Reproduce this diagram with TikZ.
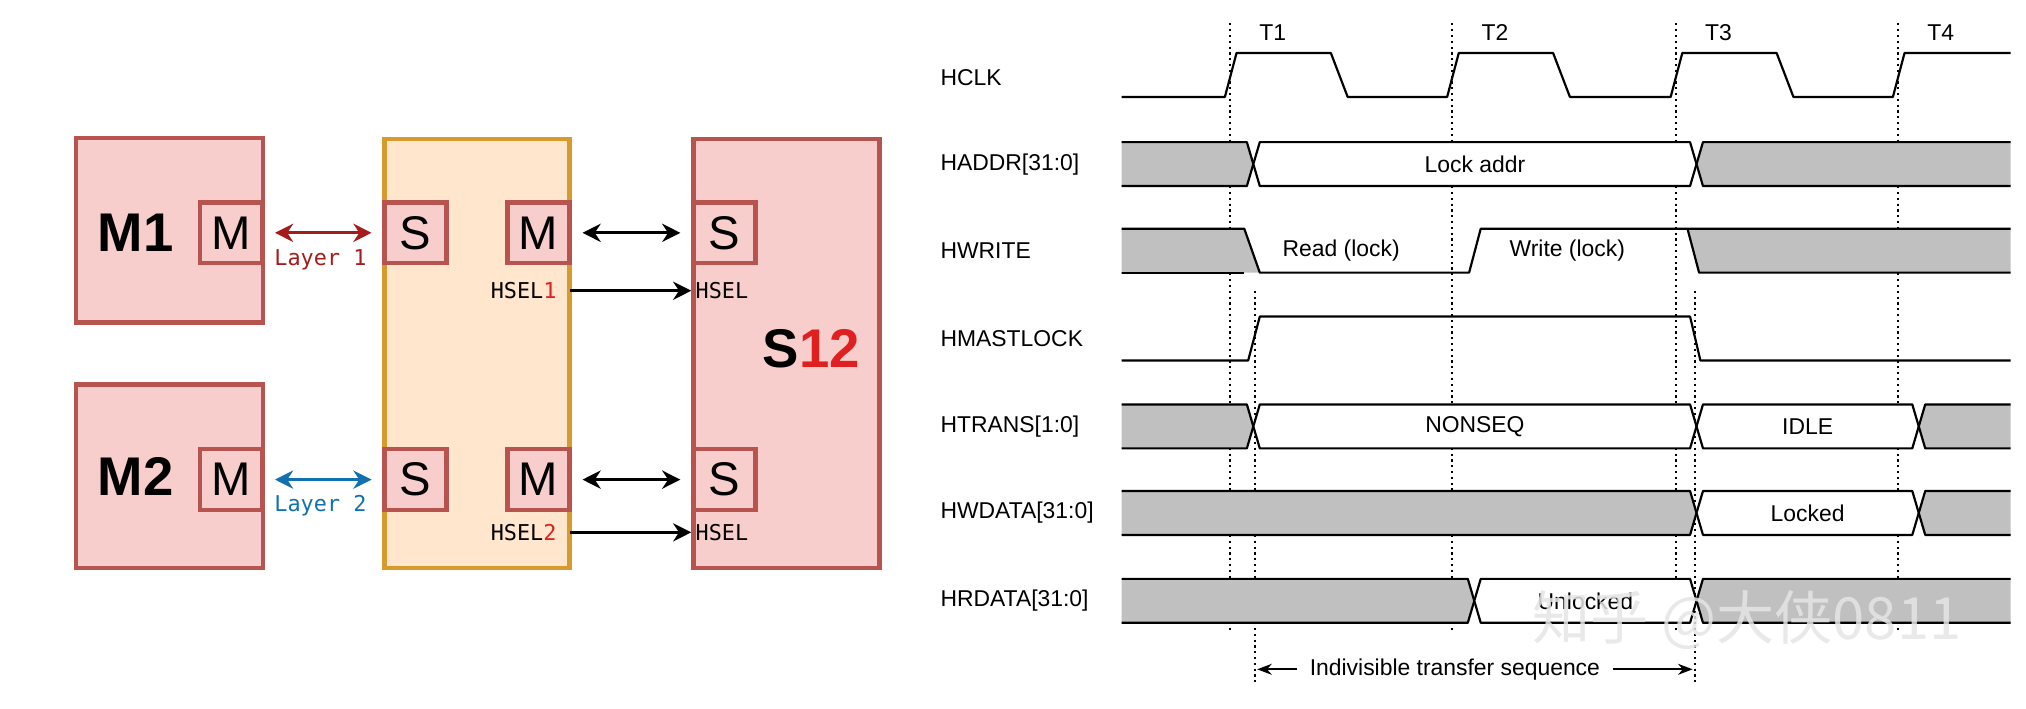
\documentclass[tikz,border=0pt]{standalone}
\usepackage{fontspec}
\setmainfont{Liberation Sans}
\newfontfamily\monof{DejaVu Sans Mono}
\newfontfamily\cjkf{Noto Sans CJK SC}
\usetikzlibrary{arrows.meta}
\definecolor{pinkf}{HTML}{F8CECC}
\definecolor{pinkd}{HTML}{B85450}
\definecolor{orf}{HTML}{FFE6CC}
\definecolor{ord}{HTML}{D79B2D}
\definecolor{lred}{HTML}{A51C1C}
\definecolor{lblue}{HTML}{1070B0}
\definecolor{hred}{HTML}{E02020}
\definecolor{gr}{HTML}{C0C0C0}
\tikzset{
 blk/.style={draw=pinkd,fill=pinkf,line width=1.2pt,anchor=north west,inner sep=0},
 big/.style={font=\bfseries\fontsize{15}{15}\selectfont},
 port/.style={font=\fontsize{13}{13}\selectfont},
 lab/.style={font=\monof\fontsize{6}{6}\selectfont,inner sep=1pt},
 conn/.style={line width=0.9pt,-{Stealth[length=5pt,width=5pt]}},
 bconn/.style={line width=0.9pt,{Stealth[length=5pt,width=5pt]}-{Stealth[length=5pt,width=5pt]}},
 sig/.style={font=\fontsize{6.3}{6.3}\selectfont,anchor=west},
 wv/.style={line width=0.6pt,line join=round},
 dl/.style={densely dotted,line width=0.6pt},
}
\newcommand\gseg[3]{\fill[gr] (#1,#3+17)--(#1+5,#3)--(#2-5,#3)--(#2,#3+17)--(#2-5,#3+34)--(#1+5,#3+34)--cycle;
 \draw[wv] (#1,#3+17)--(#1+5,#3)--(#2-5,#3)--(#2,#3+17)--(#2-5,#3+34)--(#1+5,#3+34)--cycle;}
\newcommand\wseg[4]{\draw[wv,fill=white] (#1,#3+17)--(#1+5,#3)--(#2-5,#3)--(#2,#3+17)--(#2-5,#3+34)--(#1+5,#3+34)--cycle;
 \node[font=\fontsize{6.3}{6.3}\selectfont] at ({(#1+#2)/2},#3+17) {#4};}
\begin{document}
\begin{tikzpicture}[x=0.0125cm,y=-0.0125cm]
\useasboundingbox (0,0) rectangle (1568,548);
% left blocks
\node[blk,minimum width=1.8125cm,minimum height=1.7875cm] (M1) at (57,105) {};
\node[blk,minimum width=1.8125cm,minimum height=1.775cm] (M2) at (57,296) {};
\node[draw=ord,fill=orf,line width=1.2pt,anchor=north west,inner sep=0,minimum width=1.7875cm,minimum height=4.15cm] (X) at (296,106) {};
\node[blk,minimum width=1.8cm,minimum height=4.15cm] (S12) at (535,106) {};
\node[big] at (105,180) {M1};
\node[big] at (105,369) {M2};
\node[big] at (628,270) {S\textcolor{hred}{12}};
\foreach \n/\x/\y/\t in {m1/153/155/M,m2/153/346/M,xs1/296/155/S,xs2/296/346/S,xm1/391/155/M,xm2/391/346/M,ss1/535/155/S,ss2/535/346/S}
 \node[blk,minimum width=0.6cm,minimum height=0.5875cm,port] (\n) at (\x,\y) {\t};
\draw[bconn,lred] ([xshift=3]m1.east) -- ([xshift=-3]xs1.west);
\draw[bconn,lblue] ([xshift=3]m2.east) -- ([xshift=-3]xs2.west);
\draw[bconn] ([xshift=3]xm1.east) -- ([xshift=-3]ss1.west);
\draw[bconn] ([xshift=3]xm2.east) -- ([xshift=-3]ss2.west);
\node[lab,text=lred] at (248,201) {Layer 1};
\node[lab,text=lblue] at (248,391) {Layer 2};
\node[lab,anchor=east] (h1) at (434,225) {HSEL\textcolor{hred}{1}};
\node[lab,anchor=east] (h2) at (434,412) {HSEL\textcolor{hred}{2}};
\node[lab,anchor=west] (hs1) at (535,225) {HSEL};
\node[lab,anchor=west] (hs2) at (535,412) {HSEL};
\draw[conn] ([xshift=2.5]h1.east) -- (hs1.west);
\draw[conn] ([xshift=2.5]h2.east) -- (hs2.west);
% timing labels
\foreach \y/\t in {60/HCLK,127/HADDR[31:0],194/HWRITE,262/HMASTLOCK,330/HTRANS[1:0],397/HWDATA[31:0],465/HRDATA[31:0]}
 \node[sig] at (718,\y) {\t};
% dotted lines
\foreach \x/\t in {952/T1,1124/T2,1297/T3,1469/T4}{
 \draw[dl] (\x,18) -- (\x,490);
 \node[font=\fontsize{6.3}{6.3}\selectfont] at (\x+33,25) {\t};}
\draw[dl] (971,225) -- (971,530);
\draw[dl] (1312,225) -- (1312,530);
\begin{scope}
\clip (868,0) rectangle (1556,548);
% HCLK
\draw[wv] (868,75) -- (948,75) -- (957,41) -- (1030,41) -- (1043,75) -- (1120,75) -- (1129,41) -- (1202,41) -- (1215,75) -- (1293,75) -- (1302,41) -- (1375,41) -- (1388,75) -- (1465,75) -- (1474,41) -- (1560,41);
% HADDR
\gseg{860}{970}{110} \wseg{970}{1313}{110}{Lock addr} \gseg{1313}{1570}{110}
% HWRITE
\fill[gr] (860,177) -- (963,177) -- (975,211) -- (860,211) -- cycle;
\fill[gr] (1306,177) -- (1570,177) -- (1570,211) -- (1315,211) -- cycle;
\draw[wv] (860,177) -- (963,177) -- (975,211) -- (1137,211) -- (1146,177) -- (1570,177);
\draw[wv] (860,211) -- (963,211);
\draw[wv] (1306,177) -- (1315,211) -- (1570,211);
\node[font=\fontsize{6.3}{6.3}\selectfont] at (1038,194) {Read (lock)};
\node[font=\fontsize{6.3}{6.3}\selectfont] at (1213,194) {Write (lock)};
% HMASTLOCK
\draw[wv] (860,279) -- (966,279) -- (975,245) -- (1308,245) -- (1316,279) -- (1570,279);
% HTRANS
\gseg{860}{970}{313} \wseg{970}{1313}{313}{NONSEQ} \wseg{1313}{1485}{313}{IDLE} \gseg{1485}{1570}{313}
% HWDATA
\gseg{860}{1313}{380} \wseg{1313}{1485}{380}{Locked} \gseg{1485}{1570}{380}
% HRDATA
\gseg{860}{1141}{448} \wseg{1141}{1313}{448}{Unlocked} \gseg{1313}{1570}{448}
\end{scope}
\node[font=\fontsize{6.3}{6.3}\selectfont] (ind) at (1126,518) {Indivisible transfer sequence};
\coordinate (il) at (973,518);
\coordinate (ir) at (1310,518);
\draw[line width=0.6pt,-{Stealth[length=4pt]}] (ind.west) -- (il);
\draw[line width=0.6pt,-{Stealth[length=4pt]}] (ind.east) -- (ir);
\node[font=\cjkf\fontsize{16}{16}\selectfont,text=white!80!gray,opacity=0.85] at (1352,480) {知乎 @大侠0811};
\end{tikzpicture}
\end{document}
